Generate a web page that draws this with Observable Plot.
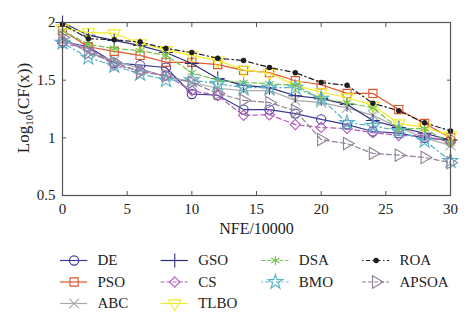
<!DOCTYPE html>
<html>
<head>
<meta charset="utf-8">
<script src="https://cdn.jsdelivr.net/npm/d3@7"></script>
<script src="https://cdn.jsdelivr.net/npm/@observablehq/plot@0.6"></script>
<style>
  html, body { margin: 0; padding: 0; background: #fff; }
  svg { display: block; }
  svg, svg text { font-family: "Liberation Serif", "Times New Roman", Times, Tinos, "DejaVu Serif", serif !important; }
</style>
</head>
<body>
<div id="chart"></div>
<script>
// Convergence of log10 cost over function evaluations (NFE / 10000)
const nfe = [0, 2, 4, 6, 8, 10, 12, 14, 16, 18, 20, 22, 24, 26, 28, 30];
const xTicks = [0, 5, 10, 15, 20, 25, 30];
const yTicks = [0.5, 1, 1.5, 2];

const DE    = [1.835, 1.79, 1.65, 1.63, 1.61, 1.38, 1.37, 1.245, 1.245, 1.21, 1.16, 1.115, 1.055, 1.04, 1.0, 0.98];
const PSO   = [1.93, 1.79, 1.75, 1.715, 1.655, 1.655, 1.635, 1.585, 1.565, 1.495, 1.46, 1.385, 1.385, 1.245, 1.125, 1.0];
const ABC   = [1.86, 1.74, 1.67, 1.6, 1.53, 1.48, 1.43, 1.41, 1.41, 1.325, 1.305, 1.26, 1.195, 1.09, 1.0, 0.935];
const GSO   = [2.0, 1.89, 1.845, 1.8, 1.74, 1.645, 1.515, 1.455, 1.435, 1.365, 1.34, 1.29, 1.15, 1.09, 1.04, 0.98];
const CS    = [1.82, 1.775, 1.63, 1.585, 1.54, 1.41, 1.365, 1.195, 1.2, 1.115, 1.09, 1.08, 1.045, 1.02, 1.02, 0.96];
const TLBO  = [1.95, 1.915, 1.905, 1.82, 1.76, 1.715, 1.67, 1.59, 1.56, 1.455, 1.395, 1.35, 1.28, 1.125, 1.09, 1.02];
const DSA   = [1.93, 1.81, 1.775, 1.755, 1.715, 1.565, 1.5, 1.48, 1.47, 1.455, 1.34, 1.305, 1.26, 1.08, 1.08, 0.95];
const BMO   = [1.825, 1.695, 1.625, 1.555, 1.5, 1.5, 1.47, 1.435, 1.435, 1.435, 1.34, 1.13, 1.105, 1.06, 0.975, 0.8];
const ROA   = [1.985, 1.86, 1.85, 1.83, 1.775, 1.74, 1.69, 1.67, 1.61, 1.565, 1.48, 1.455, 1.3, 1.235, 1.13, 1.06];
const APSOA = [1.87, 1.74, 1.655, 1.57, 1.54, 1.48, 1.385, 1.325, 1.305, 1.235, 0.985, 0.95, 0.865, 0.85, 0.83, 0.785];

// Legend layout: column and row of each algorithm
const legendCol = [0, 0, 0, 1, 1, 1, 2, 2, 3, 3];
const legendRow = [0, 1, 2, 0, 1, 2, 0, 1, 0, 1];

// Styling per algorithm (same order as the legend)
const styles = [
  {name: "DE",    values: DE,    color: "#3f3a9c", symbol: "circle",   dash: null},
  {name: "PSO",   values: PSO,   color: "#e0552b", symbol: "square",   dash: null},
  {name: "ABC",   values: ABC,   color: "#a9a9a9", symbol: "times",    dash: null},
  {name: "GSO",   values: GSO,   color: "#2c2d7e", symbol: "plus",     dash: null},
  {name: "CS",    values: CS,    color: "#b25fb8", symbol: "diamond2", dash: "5,3"},
  {name: "TLBO",  values: TLBO,  color: "#f0ec26", symbol: "triangle", dash: null, rotate: 180},
  {name: "DSA",   values: DSA,   color: "#74c44e", symbol: "asterisk", dash: "5,3"},
  {name: "BMO",   values: BMO,   color: "#55b2c6", symbol: "star",     dash: "1.5,3,5,3"},
  {name: "ROA",   values: ROA,   color: "#1e1e1e", symbol: "circle",   dash: "1.5,3,5,3", small: true},
  {name: "APSOA", values: APSOA, color: "#8e8198", symbol: "triangle", dash: "5,3", rotate: 90}
];

const font = "'Liberation Serif', 'Times New Roman', Times, Tinos, 'DejaVu Serif', serif";

function dotOptions(s) {
  return s.small
    ? {r: 2, fill: s.color, stroke: s.color, symbol: "circle"}
    : {r: 4.6, fill: "none", stroke: s.color, strokeWidth: 1.1, symbol: s.symbol, rotate: s.rotate || 0};
}

const seriesMarks = styles.flatMap(s => {
  const rows = nfe.map((x, i) => ({x, y: s.values[i]}));
  return [
    Plot.line(rows, {x: "x", y: "y", stroke: s.color, strokeWidth: 1.2, strokeDasharray: s.dash || undefined}),
    Plot.dot(rows, {x: "x", y: "y", ...dotOptions(s)})
  ];
});

const chart = Plot.plot({
  width: 474,
  height: 245,
  marginTop: 22,
  marginBottom: 50,
  marginLeft: 62,
  marginRight: 24,
  style: {fontFamily: font, fontSize: "15px", color: "#222", background: "#fff"},
  x: {domain: [0, 30]},
  y: {domain: [0.5, 2]},
  marks: [
    ...seriesMarks,
    Plot.frame({stroke: "#555", strokeWidth: 1.2}),
    Plot.axisX({ticks: xTicks, tickSize: -4, tickPadding: 12, stroke: "#555", label: null,
      tickFormat: d => String(d), fontSize: 15}),
    Plot.axisX({ticks: [], label: "NFE/10000", labelAnchor: "center", labelArrow: "none",
      labelOffset: 38, fontSize: 16}),
    Plot.axisX({anchor: "top", ticks: xTicks, tickSize: -4, tickFormat: () => "", stroke: "#555", label: null}),
    Plot.axisY({ticks: yTicks, tickSize: -4, tickPadding: 11, stroke: "#555", label: null,
      tickFormat: d => String(d), fontSize: 15}),
    Plot.axisY({anchor: "right", ticks: yTicks, tickSize: -4, tickFormat: () => "", stroke: "#555", label: null})
  ]
});

// Rotated y-axis title with a subscript
const ylab = d3.select(chart).append("text")
  .attr("transform", "translate(29,108) rotate(-90)")
  .attr("text-anchor", "middle")
  .attr("fill", "#222")
  .style("font-size", "17px");
ylab.append("tspan").text("Log");
ylab.append("tspan").attr("dy", 4).style("font-size", "11px").text("10");
ylab.append("tspan").attr("dy", -4).text("(CF(x))");

// Legend: swatch line with marker, then the algorithm name
const swatch = 0.27;
const legendMarks = styles.flatMap((s, i) => {
  const item = [{col: legendCol[i], row: legendRow[i], name: s.name}];
  return [
    Plot.ruleY(item, {y: "row", x1: "col", x2: d => d.col + swatch, stroke: s.color, strokeWidth: 1.2,
      strokeDasharray: s.dash ? (s.dash === "5,3" ? "4,2" : "1.5,2.5,4,2.5") : undefined}),
    Plot.dot(item, {x: d => d.col + swatch / 2, y: "row", ...dotOptions(s)}),
    Plot.text(item, {x: "col", y: "row", text: "name", dx: 37, textAnchor: "start", fill: "#222"})
  ];
});

const legend = Plot.plot({
  width: 474,
  height: 84,
  marginTop: 15,
  marginBottom: 26,
  marginLeft: 60,
  marginRight: 112,
  style: {fontFamily: font, fontSize: "15px", color: "#222", background: "#fff"},
  x: {domain: [0, 3], axis: null},
  y: {domain: [0, 2], axis: null, reverse: true},
  marks: legendMarks
});

const root = document.getElementById("chart");
root.append(chart);
root.append(legend);
</script>
</body>
</html>
